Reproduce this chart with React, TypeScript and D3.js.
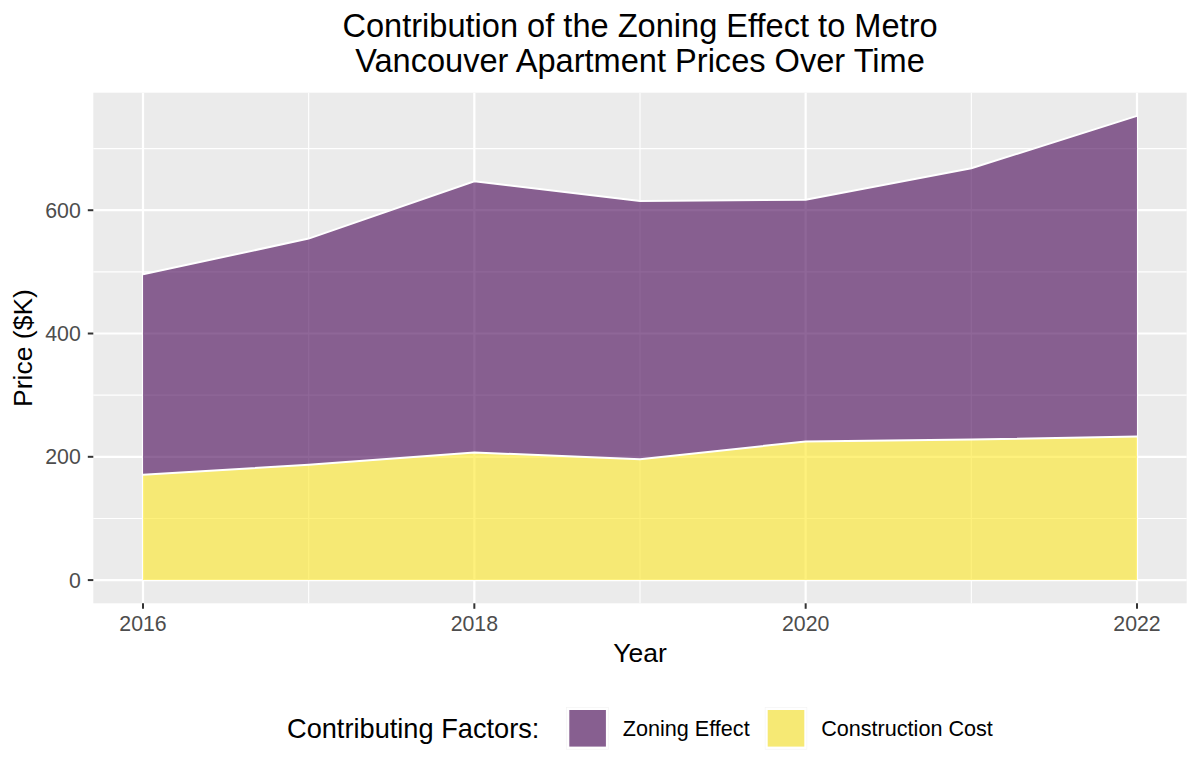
import * as d3 from "d3";
import { useEffect, useRef } from "react";

// values ($K)
const years = [2016, 2017, 2018, 2019, 2020, 2021, 2022];
const constructionCost = [171, 187, 207, 196, 225, 228, 233];
const zoningEffect = [325, 367, 440, 419, 392, 440, 520];
const seriesKeys = ["construction", "zoning"];
const legendLabels = ["Zoning Effect", "Construction Cost"];
const viridisEnds = ["#440154", "#FDE725"];
const yTicks = [0, 200, 400, 600];
const yMinor = [100, 300, 500, 700];
const xTicks = [2016, 2018, 2020, 2022];
const xMinor = [2017, 2019, 2021];

interface Row {
    year: number;
    construction: number;
    zoning: number;
}

const App = () => {
    const svgRef = useRef<SVGSVGElement>(null);

    const width = 1200;
    const height = 777;
    const marginTop = 92.7;
    const marginRight = 13.3;
    const marginBottom = 173.7;
    const marginLeft = 93.3;
    const font = "'Liberation Sans', Arial, sans-serif";
    const panelBg = "#EBEBEB";

    useEffect(() => {
        const svg = d3.select(svgRef.current);
        svg.selectAll("*").remove();

        const rows: Row[] = years.map((y, i) => ({
            year: y,
            construction: constructionCost[i],
            zoning: zoningEffect[i],
        }));
        const stacked = d3.stack<Row>().keys(seriesKeys)(rows);

        // ggplot style 5% expansion
        const [x0, x1] = d3.extent(years) as [number, number];
        const xPad = (x1 - x0) * 0.05;
        const x = d3
            .scaleLinear()
            .domain([x0 - xPad, x1 + xPad])
            .range([marginLeft, width - marginRight]);

        const yMax = d3.max(stacked[1], d => d[1]) ?? 0;
        const yPad = yMax * 0.05;
        const y = d3
            .scaleLinear()
            .domain([-yPad, yMax + yPad])
            .range([height - marginBottom, marginTop]);

        const fillColor: Record<string, string> = {
            construction: viridisEnds[1],
            zoning: viridisEnds[0],
        };

        // panel
        svg.append("rect")
            .attr("x", marginLeft)
            .attr("y", marginTop)
            .attr("width", width - marginLeft - marginRight)
            .attr("height", height - marginTop - marginBottom)
            .attr("fill", panelBg);

        const grid = svg.append("g").attr("stroke", "#fff");
        grid.selectAll(".ymin")
            .data(yMinor)
            .join("line")
            .attr("x1", marginLeft)
            .attr("x2", width - marginRight)
            .attr("y1", d => y(d))
            .attr("y2", d => y(d))
            .attr("stroke-width", 1.1);
        grid.selectAll(".xmin")
            .data(xMinor)
            .join("line")
            .attr("x1", d => x(d))
            .attr("x2", d => x(d))
            .attr("y1", marginTop)
            .attr("y2", height - marginBottom)
            .attr("stroke-width", 1.1);
        grid.selectAll(".ymaj")
            .data(yTicks)
            .join("line")
            .attr("x1", marginLeft)
            .attr("x2", width - marginRight)
            .attr("y1", d => y(d))
            .attr("y2", d => y(d))
            .attr("stroke-width", 2.2);
        grid.selectAll(".xmaj")
            .data(xTicks)
            .join("line")
            .attr("x1", d => x(d))
            .attr("x2", d => x(d))
            .attr("y1", marginTop)
            .attr("y2", height - marginBottom)
            .attr("stroke-width", 2.2);

        // stacked areas
        const area = d3
            .area<d3.SeriesPoint<Row>>()
            .x(d => x(d.data.year))
            .y0(d => y(d[0]))
            .y1(d => y(d[1]));
        const upper = d3
            .line<d3.SeriesPoint<Row>>()
            .x(d => x(d.data.year))
            .y(d => y(d[1]));

        svg.append("g")
            .selectAll("path")
            .data(stacked)
            .join("path")
            .attr("d", area)
            .attr("fill", s => fillColor[s.key])
            .attr("fill-opacity", 0.6);

        svg.append("g")
            .selectAll("path")
            .data(stacked)
            .join("path")
            .attr("d", upper)
            .attr("fill", "none")
            .attr("stroke", "#fff")
            .attr("stroke-width", 2);

        // y axis
        const yAxis = svg.append("g");
        yAxis.selectAll("line")
            .data(yTicks)
            .join("line")
            .attr("x1", marginLeft - 5.5)
            .attr("x2", marginLeft)
            .attr("y1", d => y(d))
            .attr("y2", d => y(d))
            .attr("stroke", "#333")
            .attr("stroke-width", 2);
        yAxis.selectAll("text")
            .data(yTicks)
            .join("text")
            .attr("x", marginLeft - 12.5)
            .attr("y", d => y(d))
            .attr("dy", "0.36em")
            .attr("text-anchor", "end")
            .attr("font-family", font)
            .attr("font-size", 21.3)
            .attr("fill", "#4D4D4D")
            .text(d => d);

        // x axis
        const xAxis = svg.append("g");
        xAxis.selectAll("line")
            .data(xTicks)
            .join("line")
            .attr("x1", d => x(d))
            .attr("x2", d => x(d))
            .attr("y1", height - marginBottom)
            .attr("y2", height - marginBottom + 5.5)
            .attr("stroke", "#333")
            .attr("stroke-width", 2);
        xAxis.selectAll("text")
            .data(xTicks)
            .join("text")
            .attr("x", d => x(d))
            .attr("y", 631)
            .attr("text-anchor", "middle")
            .attr("font-family", font)
            .attr("font-size", 21.3)
            .attr("fill", "#4D4D4D")
            .text(d => d);

        // axis titles
        const panelMidX = (marginLeft + width - marginRight) / 2;
        svg.append("text")
            .attr("x", panelMidX)
            .attr("y", 662)
            .attr("text-anchor", "middle")
            .attr("font-family", font)
            .attr("font-size", 26.5)
            .attr("fill", "#000")
            .text("Year");
        svg.append("text")
            .attr("transform", `translate(32,${(marginTop + height - marginBottom) / 2}) rotate(-90)`)
            .attr("text-anchor", "middle")
            .attr("font-family", font)
            .attr("font-size", 26.5)
            .attr("fill", "#000")
            .text("Price ($K)");

        // title
        const title = svg.append("text")
            .attr("text-anchor", "middle")
            .attr("font-family", font)
            .attr("font-size", 32.6)
            .attr("fill", "#000");
        title.append("tspan")
            .attr("x", panelMidX)
            .attr("y", 37)
            .text("Contribution of the Zoning Effect to Metro");
        title.append("tspan")
            .attr("x", panelMidX)
            .attr("y", 72)
            .text("Vancouver Apartment Prices Over Time");

        // legend
        const legendMid = 728.3;
        svg.append("text")
            .attr("x", 287)
            .attr("y", legendMid)
            .attr("dy", "0.36em")
            .attr("font-family", font)
            .attr("font-size", 27.2)
            .attr("fill", "#000")
            .text("Contributing Factors:");

        const keyX = [569.3, 767.7];
        // keys show the same translucent fill as the panel
        const keyFill = [fillColor.zoning, fillColor.construction].map(c =>
            d3.interpolateRgb(panelBg, c)(0.6)
        );
        const keyItems = svg.append("g")
            .selectAll("g")
            .data(legendLabels)
            .join("g")
            .attr("transform", (_, i) => `translate(${keyX[i]},${legendMid - 18.3})`);
        keyItems.append("rect")
            .attr("x", -2.6)
            .attr("y", -2.6)
            .attr("width", 41.8)
            .attr("height", 41.8)
            .attr("fill", "#fff")
            .attr("stroke", "#F2F2F2")
            .attr("stroke-width", 0.6);
        keyItems.append("rect")
            .attr("width", 36.6)
            .attr("height", 36.6)
            .attr("fill", (_, i) => keyFill[i]);
        keyItems.append("text")
            .attr("x", 53.5)
            .attr("y", 18.3)
            .attr("dy", "0.36em")
            .attr("font-family", font)
            .attr("font-size", 21.6)
            .attr("fill", "#000")
            .text(d => d);
    }, []);

    return (
        <svg
            ref={svgRef}
            width={width}
            height={height}
            style={{ position: "absolute", left: 0, top: 0, background: "#fff" }}
        ></svg>
    );
};

export default App;
